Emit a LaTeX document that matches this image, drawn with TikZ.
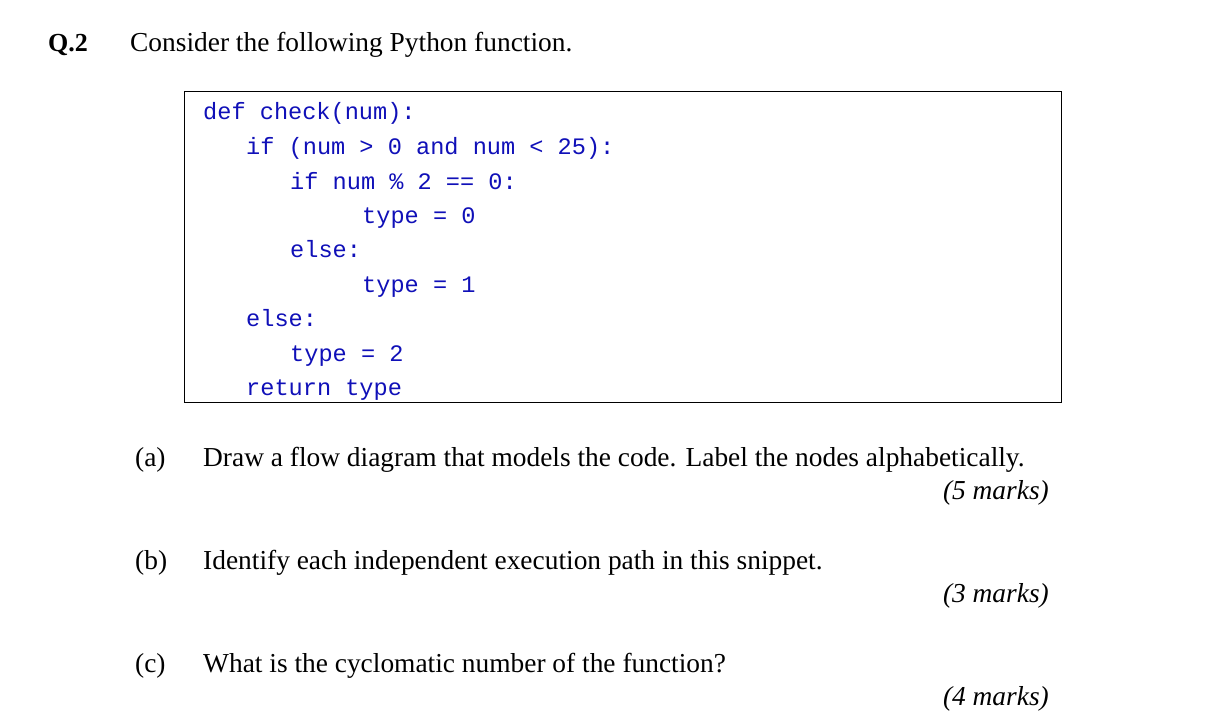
\documentclass[tikz,border=0pt]{standalone}
\usepackage{fontspec}
\setmainfont{Liberation Serif}
\setmonofont{Liberation Mono}
\begin{document}
\begin{tikzpicture}[x=1pt,y=-1pt,
  txt/.style={anchor=base west,inner sep=0pt,font=\fontsize{27.4}{32}\selectfont},
  code/.style={anchor=base west,inner sep=0pt,text=codeblue,font=\ttfamily\fontsize{23.6}{28}\selectfont},
  marks/.style={anchor=base east,inner sep=0pt,font=\itshape\fontsize{27.4}{32}\selectfont}]
\definecolor{codeblue}{HTML}{1010B8}
\useasboundingbox (0,0) rectangle (1209,723);
\fill[white] (0,0) rectangle (1209,723);
\node[txt,font=\bfseries\fontsize{26}{30}\selectfont] (q) at (48,51) {Q.2};
\node[txt] (intro) at (130,51) {Consider the following Python function.};
\draw[line width=0.8pt] (184,91) rectangle (1061,402);
\node[code] (c1) at (203,119) {def check(num):};
\node[code] (c2) at (246,154) {if (num > 0 and num < 25):};
\node[code] (c3) at (290,189) {if num \% 2 == 0:};
\node[code] (c4) at (362,223) {type = 0};
\node[code] (c5) at (290,257) {else:};
\node[code] (c6) at (362,292) {type = 1};
\node[code] (c7) at (246,326) {else:};
\node[code] (c8) at (290,361) {type = 2};
\node[code] (c9) at (246,395) {return type};
\node[txt] (la) at (135,466) {(a)};
\node[txt] (ta) at (203,466) {Draw a flow diagram that models the code. Label the nodes alphabetically.};
\node[marks] (ma) at (1049,499) {(5 marks)};
\node[txt] (lb) at (135,569) {(b)};
\node[txt] (tb) at (203,569) {Identify each independent execution path in this snippet.};
\node[marks] (mb) at (1049,602) {(3 marks)};
\node[txt] (lc) at (135,672) {(c)};
\node[txt] (tc) at (203,672) {What is the cyclomatic number of the function?};
\node[marks] (mc) at (1049,705) {(4 marks)};
\end{tikzpicture}
\end{document}
